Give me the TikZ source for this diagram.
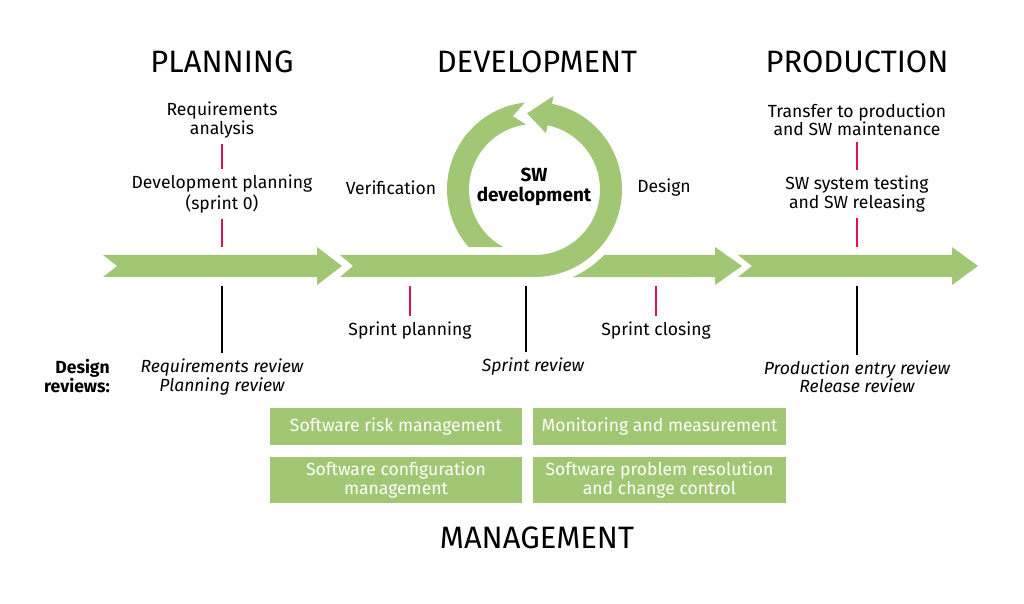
\documentclass[tikz,border=0pt]{standalone}
\usepackage{fontspec}
\setmainfont{Fira Sans}
\definecolor{lifegreen}{RGB}{161,199,116}
\definecolor{tickred}{RGB}{222,16,92}
\begin{document}
\begin{tikzpicture}[x=0.02cm,y=0.02cm,
	band/.style={fill=lifegreen,draw=none},
	redtick/.style={draw=tickred,line width=0.8pt},
	blacktick/.style={draw=black,line width=0.8pt},
	phase/.style={font=\fontsize{17.6}{20}\selectfont},
	lbl/.style={font=\fontsize{10}{10.4}\selectfont,align=center},
	rev/.style={font=\fontsize{10}{10.4}\selectfont\itshape,align=center},
	mgmt/.style={fill=lifegreen,text=white,font=\fontsize{10}{10.4}\selectfont,align=center,minimum width=5.05cm,inner sep=0pt}]
	\useasboundingbox (0,0) rectangle (1024,-604);
	
	% arrows
	\coordinate (C) at (534.5,-189.5);
	\draw[band] (103,-255) -- (317,-255) -- (317,-247) -- (342,-266) -- (317,-285) -- (317,-277) -- (103,-277) -- (117,-266) -- cycle;
	\draw[band] (340,-255) -- (534.5,-255) arc[start angle=270,end angle=438.5,radius=65.5]
		-- ([shift={(C)}]78.5:57.5) -- ([shift={(C)}]95.6:76.5) -- ([shift={(C)}]78.5:95.5)
		-- ([shift={(C)}]78.5:87.5) arc[start angle=78.5,end angle=-90,radius=87.5]
		-- (340,-277) -- (353,-266) -- cycle;
	\draw[band] ([shift={(C)}]96.3:87.5) arc[start angle=96.3,end angle=221.1,radius=87.5]
		-- ([shift={(C)}]241.4:65.5) arc[start angle=241.4,end angle=97.5,radius=65.5]
		-- ([shift={(C)}]106.5:76.5) -- cycle;
	\draw[band] ([shift={(C)}]-66.4:95.5) arc[start angle=-66.4,end angle=-43.3,radius=95.5]
		-- (715,-255) -- (715,-247) -- (742,-266) -- (715,-285) -- (715,-277) -- cycle;
	\draw[band] (738,-255) -- (952,-255) -- (952,-247) -- (978,-266) -- (952,-285) -- (952,-277) -- (738,-277) -- (752,-266) -- cycle;
	
	% phases
	\node[phase] (planning) at (222,-62) {PLANNING};
	\node[phase] (development) at (537,-62) {DEVELOPMENT};
	\node[phase] (production) at (857,-62) {PRODUCTION};
	\node[phase] (management) at (537,-538) {MANAGEMENT};
	
	% activities
	\node[lbl] (reqana) at (222,-120) {Requirements\\analysis};
	\node[lbl] (devplan) at (222,-194) {Development planning\\(sprint 0)};
	\node[lbl] (transfer) at (857,-120) {Transfer to production\\and SW maintenance};
	\node[lbl] (systest) at (857,-194) {SW system testing\\and SW releasing};
	\node[lbl] (verif) at (391,-188) {Verification};
	\node[lbl] (design) at (664,-188) {Design};
	\node[lbl,font=\fontsize{10.8}{11.2}\selectfont\bfseries] (swdev) at (534,-187) {SW\\development};
	\node[lbl] (sprplan) at (410,-331) {Sprint planning};
	\node[lbl] (sprclose) at (656,-331) {Sprint closing};
	
	% reviews
	\node[lbl,font=\fontsize{10}{10.4}\selectfont\bfseries,align=right,anchor=east] (desrev) at (116,-376) {Design\\reviews:};
	\node[rev] (reqrev) at (222,-377) {Requirements review\\Planning review};
	\node[rev] (sprrev) at (533,-367) {Sprint review};
	\node[rev] (prodrev) at (857,-377) {Production entry review\\Release review};
	
	% ticks
	\coordinate (plantop) at (222,-247);
	\coordinate (planbot) at (222,-286);
	\coordinate (spplbot) at (410,-286);
	\coordinate (sprvbot) at (526,-286);
	\coordinate (spclbot) at (656,-286);
	\coordinate (prodtop) at (857,-247);
	\coordinate (prodbot) at (857,-286);
	\draw[redtick] (reqana) -- (devplan);
	\draw[redtick] (devplan) -- (plantop);
	\draw[redtick] (transfer) -- (systest);
	\draw[redtick] (systest) -- (prodtop);
	\draw[blacktick] (planbot) -- (reqrev);
	\draw[blacktick] (prodbot) -- (prodrev);
	\draw[redtick] (spplbot) -- (spplbot |- sprplan.north);
	\draw[redtick] (spclbot) -- (spclbot |- sprclose.north);
	\draw[blacktick] (sprvbot) -- (sprvbot |- sprrev.north);
	
	% management
	\node[mgmt,minimum height=0.74cm] (risk) at (396,-426.5) {Software risk management};
	\node[mgmt,minimum height=0.74cm] (monitor) at (659.5,-426.5) {Monitoring and measurement};
	\node[mgmt,minimum height=0.92cm] (config) at (396,-480) {Software configuration\\management};
	\node[mgmt,minimum height=0.92cm] (problem) at (659.5,-480) {Software problem resolution\\and change control};
\end{tikzpicture}
\end{document}
